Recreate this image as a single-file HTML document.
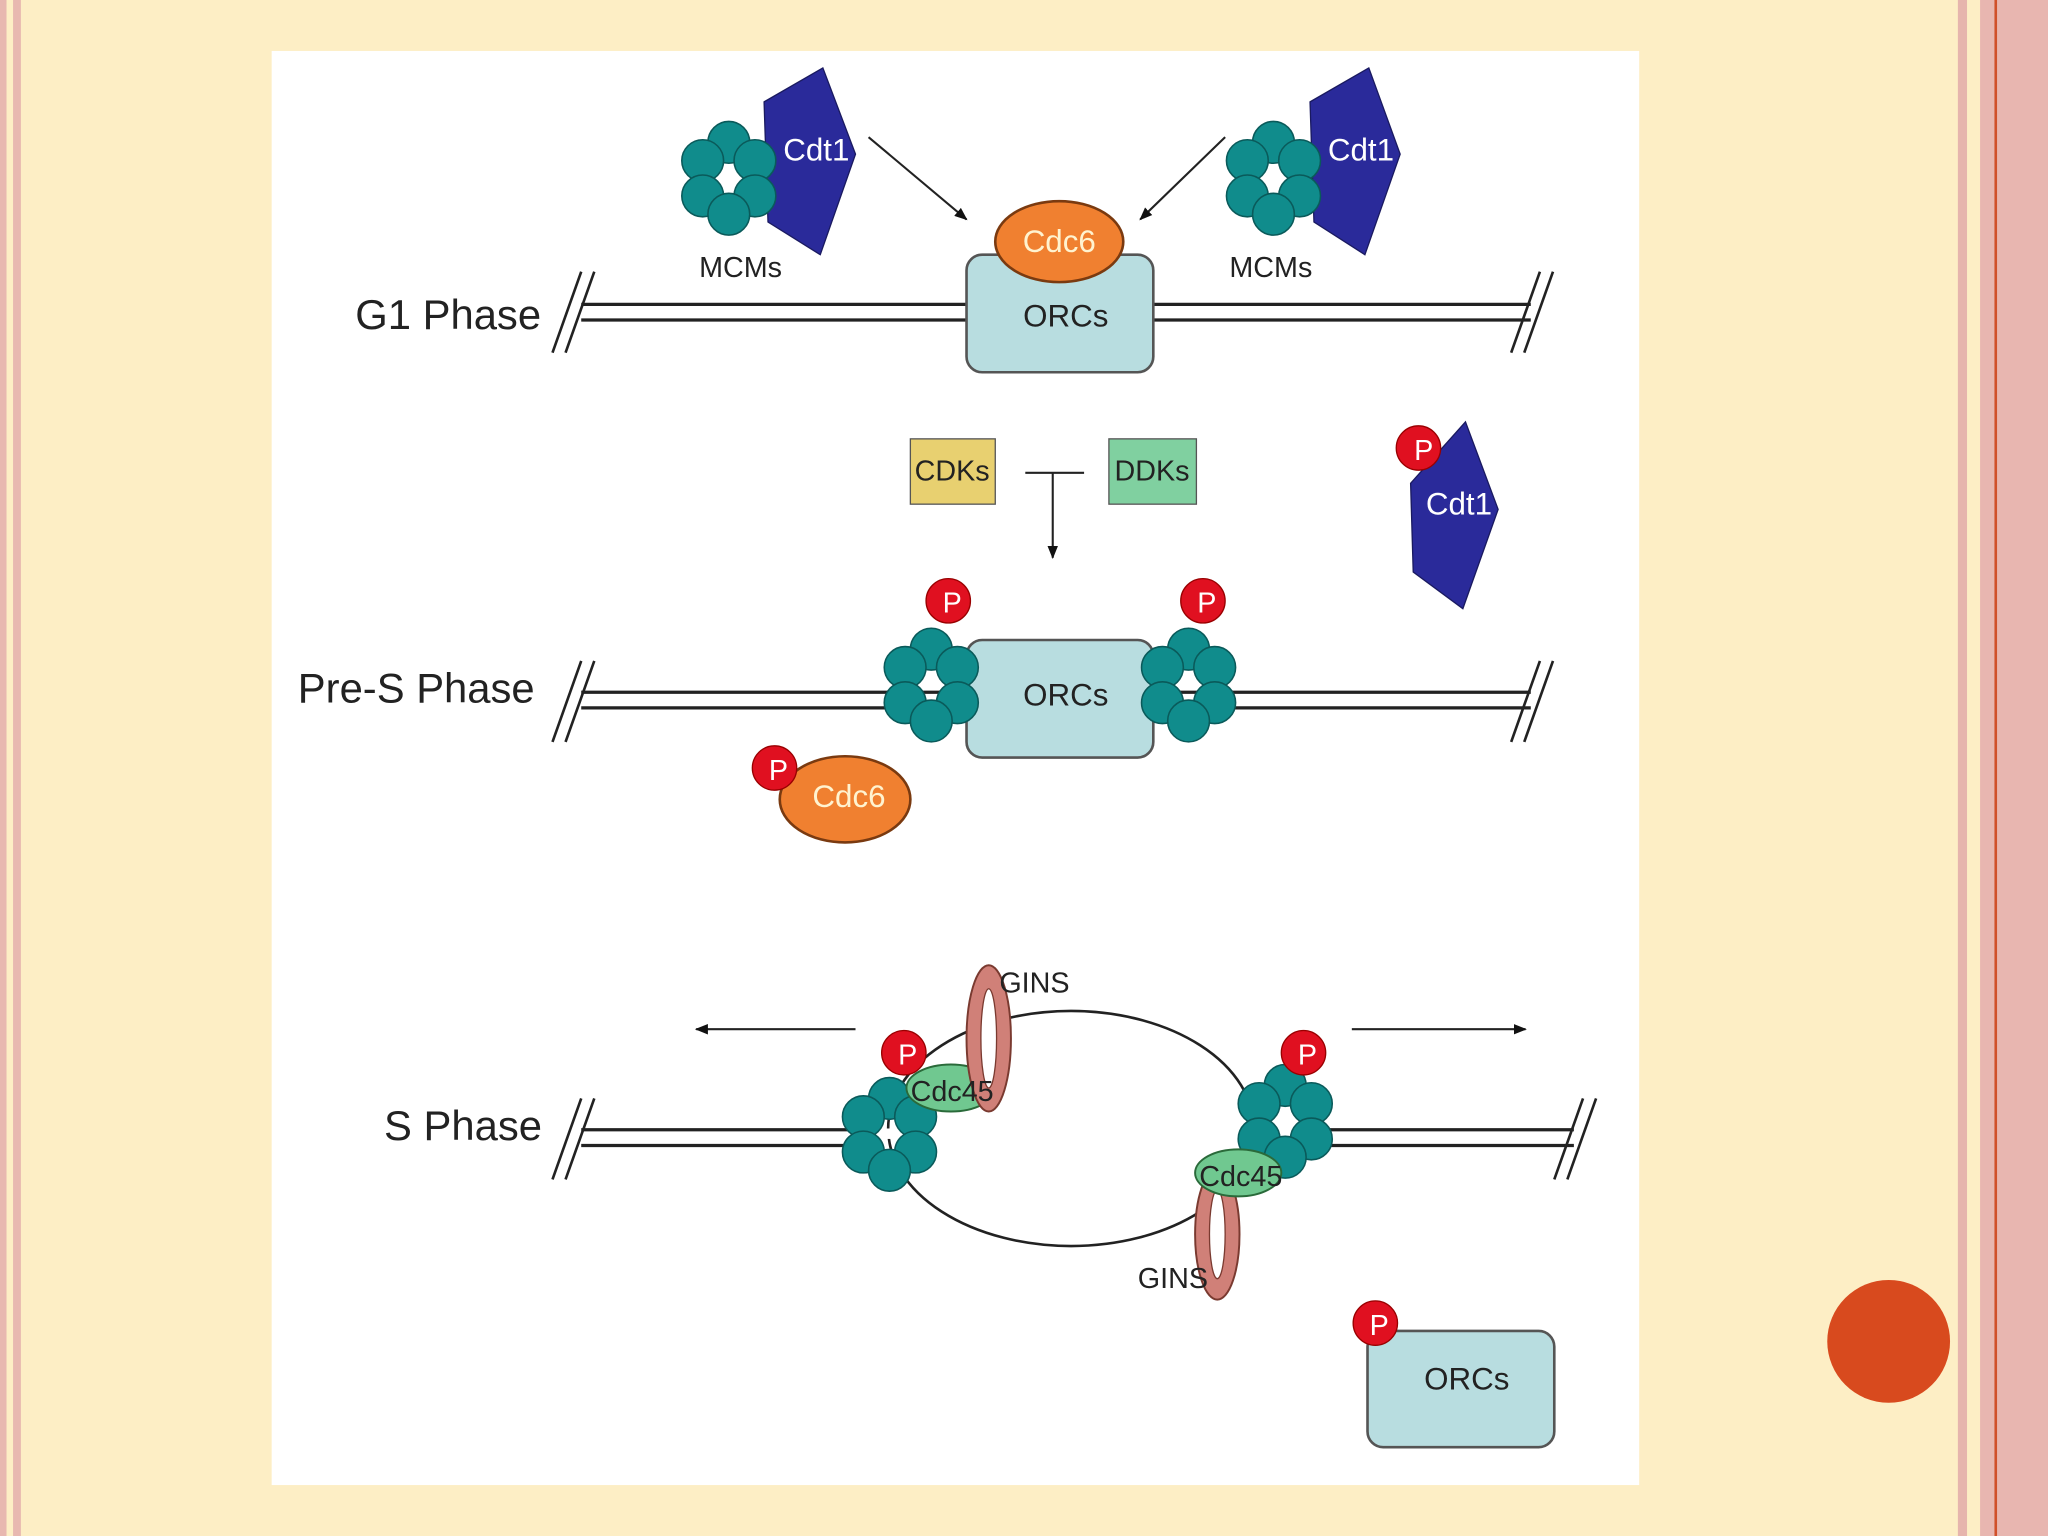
<!DOCTYPE html>
<html><head><meta charset="utf-8"><style>html,body{margin:0;padding:0;background:#fdeec5}svg{display:block}</style></head>
<body>
<svg width="2048" height="1536" viewBox="0 0 1568 1176" xmlns="http://www.w3.org/2000/svg" font-family="Liberation Sans, sans-serif">
<defs>
<g id="mcm" fill="#108c8c" stroke="#0a5a5a" stroke-width="1.2">
<circle cx="0" cy="-27" r="16"/><circle cx="-20" cy="-13" r="16"/><circle cx="20" cy="-13" r="16"/>
<circle cx="-20" cy="14" r="16"/><circle cx="20" cy="14" r="16"/><circle cx="0" cy="28" r="16"/>
<rect x="-5" y="-4" width="10" height="8" fill="#fff" stroke="none"/>
</g>
<g id="p"><circle r="17" fill="#e01020" stroke="#900" stroke-width="1"/></g>
<marker id="ah" markerWidth="10" markerHeight="10" refX="9" refY="5" orient="auto" markerUnits="userSpaceOnUse"><path d="M0,1 L10,5 L0,9 z" fill="#111"/></marker>
</defs>
<rect width="1568" height="1176" fill="#fdeec5"/>
<rect x="0" y="0" width="5" height="1176" fill="#e8b8b0"/>
<rect x="10" y="0" width="6" height="1176" fill="#e8b8b0"/>
<rect x="1499" y="0" width="7" height="1176" fill="#e6b5ad"/>
<rect x="1516" y="0" width="52" height="1176" fill="#e8b6b0"/>
<rect x="1527" y="0" width="2" height="1176" fill="#d0502a"/>
<rect x="208" y="39" width="1047" height="1098" fill="#fff"/>
<circle cx="1446" cy="1027" r="47" fill="#d84a1e"/>

<g fill="#222" font-size="32">
<text x="272" y="252">G1 Phase</text>
<text x="228" y="538">Pre-S Phase</text>
<text x="294" y="873">S Phase</text>
</g>

<!-- DNA lines -->
<g stroke="#222" stroke-width="2.5" fill="none">
<line x1="445" y1="233" x2="1172" y2="233"/><line x1="445" y1="245" x2="1172" y2="245"/>
<line x1="445" y1="530" x2="1172" y2="530"/><line x1="445" y1="542" x2="1172" y2="542"/>
<line x1="445" y1="865" x2="650" y2="865"/><line x1="445" y1="877" x2="650" y2="877"/>
<line x1="1015" y1="865" x2="1205" y2="865"/><line x1="1015" y1="877" x2="1205" y2="877"/>
<g stroke-width="2">
<line x1="423" y1="270" x2="445" y2="208"/><line x1="433" y1="270" x2="455" y2="208"/>
<line x1="1157" y1="270" x2="1179" y2="208"/><line x1="1167" y1="270" x2="1189" y2="208"/>
<line x1="423" y1="568" x2="445" y2="506"/><line x1="433" y1="568" x2="455" y2="506"/>
<line x1="1157" y1="568" x2="1179" y2="506"/><line x1="1167" y1="568" x2="1189" y2="506"/>
<line x1="423" y1="903" x2="445" y2="841"/><line x1="433" y1="903" x2="455" y2="841"/>
<line x1="1190" y1="903" x2="1212" y2="841"/><line x1="1200" y1="903" x2="1222" y2="841"/>
</g>
</g>

<!-- G1 -->
<rect x="740" y="195" width="143" height="90" rx="12" fill="#b8dde0" stroke="#555" stroke-width="2"/>
<ellipse cx="811" cy="185" rx="49" ry="31" fill="#f08030" stroke="#7a3a10" stroke-width="2"/>
<text x="811" y="193" font-size="24" fill="#fff3d0" text-anchor="middle">Cdc6</text>
<text x="816" y="250" font-size="24" fill="#222" text-anchor="middle">ORCs</text>
<polygon points="585,78 630,52 655,118 628,195 588,170" fill="#2a2a9a" stroke="#1a1a60"/>
<use href="#mcm" x="558" y="136"/>
<text x="625" y="123" font-size="24" fill="#fff" text-anchor="middle">Cdt1</text>
<text x="567" y="212" font-size="22" fill="#222" text-anchor="middle">MCMs</text>
<polygon points="1003,78 1048,52 1072,118 1045,195 1006,170" fill="#2a2a9a" stroke="#1a1a60"/>
<use href="#mcm" x="975" y="136"/>
<text x="1042" y="123" font-size="24" fill="#fff" text-anchor="middle">Cdt1</text>
<text x="973" y="212" font-size="22" fill="#222" text-anchor="middle">MCMs</text>
<line x1="665" y1="105" x2="740" y2="168" stroke="#222" stroke-width="1.6" marker-end="url(#ah)"/>
<line x1="938" y1="105" x2="873" y2="168" stroke="#222" stroke-width="1.6" marker-end="url(#ah)"/>

<!-- CDK/DDK -->
<rect x="697" y="336" width="65" height="50" fill="#e8d070" stroke="#555"/>
<text x="729" y="368" font-size="22" fill="#222" text-anchor="middle">CDKs</text>
<rect x="849" y="336" width="67" height="50" fill="#80d0a0" stroke="#555"/>
<text x="882" y="368" font-size="22" fill="#222" text-anchor="middle">DDKs</text>
<line x1="785" y1="362" x2="830" y2="362" stroke="#222" stroke-width="1.6"/>
<line x1="806" y1="362" x2="806" y2="427" stroke="#222" stroke-width="1.6" marker-end="url(#ah)"/>

<!-- free Cdt1 -->
<polygon points="1080,370 1122,323 1147,390 1120,466 1082,438" fill="#2a2a9a" stroke="#1a1a60"/>
<text x="1117" y="394" font-size="24" fill="#fff" text-anchor="middle">Cdt1</text>
<use href="#p" x="1086" y="343"/><text x="1090" y="352" font-size="22" fill="#fff" text-anchor="middle">P</text>

<!-- Pre-S -->
<rect x="740" y="490" width="143" height="90" rx="12" fill="#b8dde0" stroke="#555" stroke-width="2"/>
<text x="816" y="540" font-size="24" fill="#222" text-anchor="middle">ORCs</text>
<use href="#mcm" x="713" y="524"/>
<use href="#mcm" x="910" y="524"/>
<use href="#p" x="726" y="460"/><text x="729" y="469" font-size="22" fill="#fff" text-anchor="middle">P</text>
<use href="#p" x="921" y="460"/><text x="924" y="469" font-size="22" fill="#fff" text-anchor="middle">P</text>
<ellipse cx="647" cy="612" rx="50" ry="33" fill="#f08030" stroke="#7a3a10" stroke-width="2"/>
<text x="650" y="618" font-size="24" fill="#fff3d0" text-anchor="middle">Cdc6</text>
<use href="#p" x="593" y="588"/><text x="596" y="597" font-size="22" fill="#fff" text-anchor="middle">P</text>

<!-- S phase -->
<ellipse cx="820" cy="864" rx="140" ry="90" fill="none" stroke="#222" stroke-width="2"/>
<line x1="655" y1="788" x2="533" y2="788" stroke="#222" stroke-width="1.6" marker-end="url(#ah)"/>
<line x1="1035" y1="788" x2="1168" y2="788" stroke="#222" stroke-width="1.6" marker-end="url(#ah)"/>
<use href="#mcm" x="681" y="868"/>
<use href="#mcm" x="984" y="858"/>
<use href="#p" x="692" y="806"/><text x="695" y="815" font-size="22" fill="#fff" text-anchor="middle">P</text>
<use href="#p" x="998" y="806"/><text x="1001" y="815" font-size="22" fill="#fff" text-anchor="middle">P</text>
<ellipse cx="728" cy="833" rx="34" ry="18" fill="#70c890" stroke="#2a6a3a" stroke-width="1.5"/>
<ellipse cx="757" cy="795" rx="17" ry="56" fill="#d08078" stroke="#7a3a30" stroke-width="1.5"/>
<ellipse cx="757" cy="795" rx="6" ry="38" fill="#fff" stroke="#7a3a30" stroke-width="1"/>
<text x="729" y="843" font-size="22" fill="#222" text-anchor="middle">Cdc45</text>
<text x="792" y="760" font-size="22" fill="#222" text-anchor="middle">GINS</text>
<ellipse cx="932" cy="945" rx="17" ry="50" fill="#d08078" stroke="#7a3a30" stroke-width="1.5"/>
<ellipse cx="932" cy="945" rx="6" ry="34" fill="#fff" stroke="#7a3a30" stroke-width="1"/>
<ellipse cx="948" cy="898" rx="33" ry="18" fill="#70c890" stroke="#2a6a3a" stroke-width="1.5"/>
<text x="950" y="908" font-size="22" fill="#222" text-anchor="middle">Cdc45</text>
<text x="898" y="986" font-size="22" fill="#222" text-anchor="middle">GINS</text>

<rect x="1047" y="1019" width="143" height="89" rx="12" fill="#b8dde0" stroke="#555" stroke-width="2"/>
<text x="1123" y="1064" font-size="24" fill="#222" text-anchor="middle">ORCs</text>
<use href="#p" x="1053" y="1013"/><text x="1056" y="1022" font-size="22" fill="#fff" text-anchor="middle">P</text>
</svg>
</body></html>
